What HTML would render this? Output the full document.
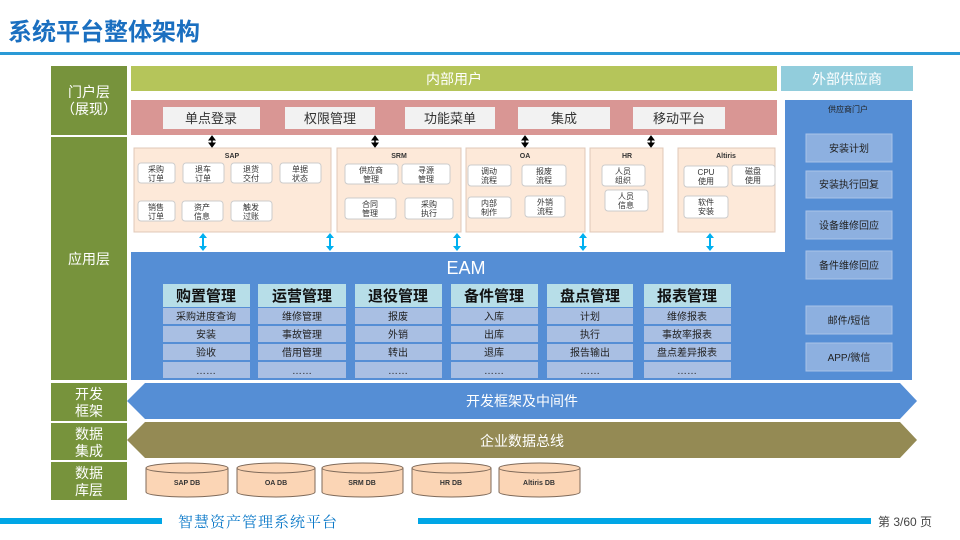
<!DOCTYPE html>
<html><head><meta charset="utf-8"><style>
html,body{margin:0;padding:0;background:#fff;}
svg{display:block;font-family:"Liberation Sans","Noto Sans CJK SC",sans-serif;}
</style></head><body>
<svg width="960" height="540" viewBox="0 0 960 540" xmlns="http://www.w3.org/2000/svg">
<rect width="960" height="540" fill="#fff"/>
<text x="8" y="40" font-size="24" font-weight="bold" fill="#1a6fc0">系统平台整体架构</text>
<rect x="0" y="52" width="960" height="3" fill="#2a9ad6"/>

<g fill="#77933c">
<rect x="51" y="66" width="76" height="69"/>
<rect x="51" y="137" width="76" height="243"/>
<rect x="51" y="383" width="76" height="38"/>
<rect x="51" y="423" width="76" height="37"/>
<rect x="51" y="462" width="76" height="38"/>
</g>
<g fill="#fff" font-size="14" text-anchor="middle">
<text x="89" y="97">门户层</text><text x="89" y="114">（展现）</text>
<text x="89" y="264">应用层</text>
<text x="89" y="399">开发</text><text x="89" y="416">框架</text>
<text x="89" y="439">数据</text><text x="89" y="456">集成</text>
<text x="89" y="478">数据</text><text x="89" y="495">库层</text>
</g>

<rect x="131" y="66" width="646" height="25" fill="#b5c55a"/>
<text x="454" y="84" font-size="14" fill="#fff" text-anchor="middle">内部用户</text>
<rect x="781" y="66" width="132" height="25" fill="#92cddc"/>
<text x="847" y="84" font-size="14" fill="#fff" text-anchor="middle">外部供应商</text>
<rect x="131" y="100" width="646" height="35" fill="#d99694"/>
<g fill="#f2f2f2">
<rect x="163" y="107" width="97" height="22"/><rect x="285" y="107" width="90" height="22"/>
<rect x="405" y="107" width="90" height="22"/><rect x="518" y="107" width="92" height="22"/>
<rect x="633" y="107" width="92" height="22"/>
</g>
<g font-size="13" fill="#333" text-anchor="middle">
<text x="211" y="123">单点登录</text><text x="330" y="123">权限管理</text><text x="450" y="123">功能菜单</text>
<text x="564" y="123">集成</text><text x="679" y="123">移动平台</text>
</g>
<g fill="#000" stroke="#000">
<g transform="translate(212,0)"><line x1="0" y1="138" x2="0" y2="145" stroke-width="1.5"/><path d="M-3 140 L0 136 L3 140Z M-3 143 L0 147 L3 143Z"/></g>
<g transform="translate(375,0)"><line x1="0" y1="138" x2="0" y2="145" stroke-width="1.5"/><path d="M-3 140 L0 136 L3 140Z M-3 143 L0 147 L3 143Z"/></g>
<g transform="translate(525,0)"><line x1="0" y1="138" x2="0" y2="145" stroke-width="1.5"/><path d="M-3 140 L0 136 L3 140Z M-3 143 L0 147 L3 143Z"/></g>
<g transform="translate(651,0)"><line x1="0" y1="138" x2="0" y2="145" stroke-width="1.5"/><path d="M-3 140 L0 136 L3 140Z M-3 143 L0 147 L3 143Z"/></g>
</g>

<g fill="#fde9d9" stroke="#e0c8b8">
<rect x="134" y="148" width="197" height="84"/><rect x="337" y="148" width="124" height="84"/>
<rect x="466" y="148" width="119" height="84"/><rect x="590" y="148" width="73" height="84"/>
<rect x="678" y="148" width="97" height="84"/>
</g>
<g font-size="7" font-weight="bold" fill="#333" text-anchor="middle">
<text x="232" y="158">SAP</text><text x="399" y="158">SRM</text><text x="525" y="158">OA</text>
<text x="627" y="158">HR</text><text x="726" y="158">Altiris</text>
</g>
<g fill="#fff" stroke="#ccc">
<rect x="138" y="163" width="37" height="20" rx="3"/><rect x="183" y="163" width="41" height="20" rx="3"/>
<rect x="231" y="163" width="41" height="20" rx="3"/><rect x="280" y="163" width="41" height="20" rx="3"/>
<rect x="138" y="201" width="37" height="20" rx="3"/><rect x="182" y="201" width="41" height="20" rx="3"/>
<rect x="231" y="201" width="41" height="20" rx="3"/>
<rect x="345" y="164" width="53" height="20" rx="3"/><rect x="402" y="164" width="48" height="20" rx="3"/>
<rect x="345" y="198" width="51" height="21" rx="3"/><rect x="405" y="198" width="48" height="21" rx="3"/>
<rect x="468" y="165" width="43" height="21" rx="3"/><rect x="522" y="165" width="44" height="21" rx="3"/>
<rect x="468" y="197" width="43" height="21" rx="3"/><rect x="525" y="196" width="40" height="21" rx="3"/>
<rect x="602" y="165" width="43" height="21" rx="3"/><rect x="605" y="190" width="43" height="21" rx="3"/>
<rect x="684" y="166" width="44" height="21" rx="3"/><rect x="732" y="165" width="43" height="21" rx="3"/>
<rect x="684" y="196" width="44" height="22" rx="3"/>
</g>
<g font-size="8" fill="#333" text-anchor="middle">
<text x="156" y="172">采购</text><text x="156" y="181">订单</text>
<text x="203" y="172">退车</text><text x="203" y="181">订单</text>
<text x="251" y="172">退货</text><text x="251" y="181">交付</text>
<text x="300" y="172">单据</text><text x="300" y="181">状态</text>
<text x="156" y="210">销售</text><text x="156" y="219">订单</text>
<text x="202" y="210">资产</text><text x="202" y="219">信息</text>
<text x="251" y="210">触发</text><text x="251" y="219">过账</text>
<text x="371" y="173">供应商</text><text x="371" y="182">管理</text>
<text x="426" y="173">寻源</text><text x="426" y="182">管理</text>
<text x="370" y="207">合同</text><text x="370" y="216">管理</text>
<text x="429" y="207">采购</text><text x="429" y="216">执行</text>
<text x="489" y="174">调动</text><text x="489" y="183">流程</text>
<text x="544" y="174">报废</text><text x="544" y="183">流程</text>
<text x="489" y="206">内部</text><text x="489" y="215">制作</text>
<text x="545" y="205">外销</text><text x="545" y="214">流程</text>
<text x="623" y="174">人员</text><text x="623" y="183">组织</text>
<text x="626" y="199">人员</text><text x="626" y="208">信息</text>
<text x="706" y="175">CPU</text><text x="706" y="184">使用</text>
<text x="753" y="174">磁盘</text><text x="753" y="183">使用</text>
<text x="706" y="205">软件</text><text x="706" y="214">安装</text>
</g>
<g stroke="#00b0f0" fill="#00b0f0" stroke-width="2">
<g transform="translate(203,0)"><line x1="0" y1="237" x2="0" y2="247"/><path d="M-4 238 L0 233 L4 238Z M-4 246 L0 251 L4 246Z" stroke="none"/></g>
<g transform="translate(330,0)"><line x1="0" y1="237" x2="0" y2="247"/><path d="M-4 238 L0 233 L4 238Z M-4 246 L0 251 L4 246Z" stroke="none"/></g>
<g transform="translate(457,0)"><line x1="0" y1="237" x2="0" y2="247"/><path d="M-4 238 L0 233 L4 238Z M-4 246 L0 251 L4 246Z" stroke="none"/></g>
<g transform="translate(583,0)"><line x1="0" y1="237" x2="0" y2="247"/><path d="M-4 238 L0 233 L4 238Z M-4 246 L0 251 L4 246Z" stroke="none"/></g>
<g transform="translate(710,0)"><line x1="0" y1="237" x2="0" y2="247"/><path d="M-4 238 L0 233 L4 238Z M-4 246 L0 251 L4 246Z" stroke="none"/></g>
</g>

<rect x="131" y="252" width="781" height="128" fill="#558ed5"/>
<rect x="785" y="100" width="127" height="280" fill="#558ed5"/>
<text x="466" y="274" font-size="18" fill="#fff" text-anchor="middle">EAM</text>
<text x="848" y="112" font-size="8" fill="#222" text-anchor="middle">供应商门户</text>
<g fill="#8db0e0" stroke="#a9c3e8">
<rect x="806" y="134" width="86" height="28"/><rect x="806" y="171" width="86" height="27"/>
<rect x="806" y="211" width="86" height="28"/><rect x="806" y="251" width="86" height="28"/>
<rect x="806" y="306" width="86" height="28"/><rect x="806" y="343" width="86" height="28"/>
</g>
<g font-size="10" fill="#222" text-anchor="middle">
<text x="849" y="152">安装计划</text><text x="849" y="188">安装执行回复</text>
<text x="849" y="229">设备维修回应</text><text x="849" y="269">备件维修回应</text>
<text x="849" y="324">邮件/短信</text><text x="849" y="361">APP/微信</text>
</g>
<g fill="#b7dee8">
<rect x="163" y="284" width="87" height="23"/><rect x="258" y="284" width="88" height="23"/>
<rect x="355" y="284" width="87" height="23"/><rect x="451" y="284" width="87" height="23"/>
<rect x="547" y="284" width="86" height="23"/><rect x="644" y="284" width="87" height="23"/>
</g>
<g font-size="15" fill="#111" text-anchor="middle" font-weight="bold">
<text x="206" y="301">购置管理</text><text x="302" y="301">运营管理</text><text x="398" y="301">退役管理</text>
<text x="494" y="301">备件管理</text><text x="590" y="301">盘点管理</text><text x="687" y="301">报表管理</text>
</g>
<g fill="#a9bfe3">
<rect x="163" y="308" width="87" height="16"/><rect x="163" y="326" width="87" height="16"/><rect x="163" y="344" width="87" height="16"/><rect x="163" y="362" width="87" height="16"/>
<rect x="258" y="308" width="88" height="16"/><rect x="258" y="326" width="88" height="16"/><rect x="258" y="344" width="88" height="16"/><rect x="258" y="362" width="88" height="16"/>
<rect x="355" y="308" width="87" height="16"/><rect x="355" y="326" width="87" height="16"/><rect x="355" y="344" width="87" height="16"/><rect x="355" y="362" width="87" height="16"/>
<rect x="451" y="308" width="87" height="16"/><rect x="451" y="326" width="87" height="16"/><rect x="451" y="344" width="87" height="16"/><rect x="451" y="362" width="87" height="16"/>
<rect x="547" y="308" width="86" height="16"/><rect x="547" y="326" width="86" height="16"/><rect x="547" y="344" width="86" height="16"/><rect x="547" y="362" width="86" height="16"/>
<rect x="644" y="308" width="87" height="16"/><rect x="644" y="326" width="87" height="16"/><rect x="644" y="344" width="87" height="16"/><rect x="644" y="362" width="87" height="16"/>
</g>
<g font-size="10" fill="#222" text-anchor="middle">
<text x="206" y="320">采购进度查询</text><text x="206" y="338">安装</text><text x="206" y="356">验收</text><text x="206" y="374">……</text>
<text x="302" y="320">维修管理</text><text x="302" y="338">事故管理</text><text x="302" y="356">借用管理</text><text x="302" y="374">……</text>
<text x="398" y="320">报废</text><text x="398" y="338">外销</text><text x="398" y="356">转出</text><text x="398" y="374">……</text>
<text x="494" y="320">入库</text><text x="494" y="338">出库</text><text x="494" y="356">退库</text><text x="494" y="374">……</text>
<text x="590" y="320">计划</text><text x="590" y="338">执行</text><text x="590" y="356">报告输出</text><text x="590" y="374">……</text>
<text x="687" y="320">维修报表</text><text x="687" y="338">事故率报表</text><text x="687" y="356">盘点差异报表</text><text x="687" y="374">……</text>
</g>

<path d="M127 401 L145 383 L900 383 L917 401 L900 419 L145 419 Z" fill="#558ed5"/>
<text x="522" y="406" font-size="14" fill="#fff" text-anchor="middle">开发框架及中间件</text>
<path d="M127 440 L145 422 L900 422 L917 440 L900 458 L145 458 Z" fill="#948a54"/>
<text x="522" y="446" font-size="14" fill="#fff" text-anchor="middle">企业数据总线</text>

<g fill="#fbd5b5" stroke="#7f6a5a" stroke-width="1">
<path d="M146 468 L146 492 A41 5 0 0 0 228 492 L228 468"/><ellipse cx="187" cy="468" rx="41" ry="5"/>
<path d="M237 468 L237 492 A39 5 0 0 0 315 492 L315 468"/><ellipse cx="276" cy="468" rx="39" ry="5"/>
<path d="M322 468 L322 492 A40.5 5 0 0 0 403 492 L403 468"/><ellipse cx="362.5" cy="468" rx="40.5" ry="5"/>
<path d="M412 468 L412 492 A39.5 5 0 0 0 491 492 L491 468"/><ellipse cx="451.5" cy="468" rx="39.5" ry="5"/>
<path d="M499 468 L499 492 A40.5 5 0 0 0 580 492 L580 468"/><ellipse cx="539.5" cy="468" rx="40.5" ry="5"/>
</g>
<g font-size="7" font-weight="bold" fill="#333" text-anchor="middle">
<text x="187" y="485">SAP DB</text><text x="276" y="485">OA  DB</text><text x="362" y="485">SRM DB</text>
<text x="451" y="485">HR DB</text><text x="539" y="485">Altiris  DB</text>
</g>

<rect x="0" y="518" width="162" height="6" fill="#00a6e6"/>
<rect x="418" y="518" width="453" height="6" fill="#00a6e6"/>
<text x="178" y="527" font-size="15" fill="#0a78c8" font-family="'Noto Serif CJK SC',serif" letter-spacing="1">智慧资产管理系统平台</text>
<text x="878" y="526" font-size="12" fill="#444">第 3/60 页</text>
</svg>
</body></html>
